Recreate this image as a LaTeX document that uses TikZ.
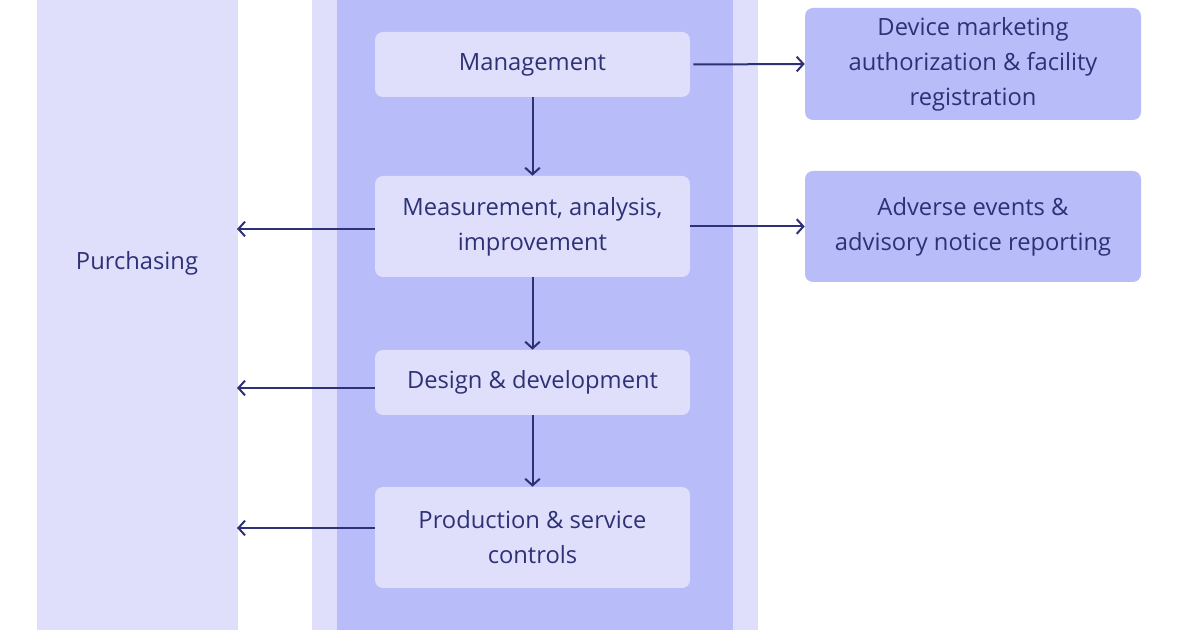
\documentclass[tikz,border=0pt]{standalone}
\usepackage{fontspec}
\setmainfont{Open Sans}
\usetikzlibrary{arrows.meta}
\definecolor{lightlav}{HTML}{DFDFFC}
\definecolor{midlav}{HTML}{B8BCF8}
\definecolor{navy}{HTML}{2E3176}
\tikzset{
  col/.style={fill=#1, draw=none, inner sep=0pt, anchor=north west},
  txt/.style={text=navy, font=\fontsize{17.8}{26.3}\selectfont},
  inbox/.style={txt, fill=lightlav, draw=none, rounded corners=6pt, minimum width=315*0.75pt, align=center, inner sep=0pt},
  outbox/.style={txt, fill=midlav, draw=none, rounded corners=6pt, minimum width=336*0.75pt, align=center, inner sep=0pt},
  conn/.style={draw=navy, line width=1.5pt, -{Straight Barb[length=5pt,width=11pt,line width=1.5pt]}},
}
\begin{document}
\begin{tikzpicture}[x=0.75pt,y=-0.75pt]
\useasboundingbox (0,0) rectangle (1200,630);
\node[col=lightlav, minimum width=201*0.75pt, minimum height=630*0.75pt] (purch) at (37,0) {};
\node[txt] (purchtext) at (137,263) {Purchasing};
\node[col=lightlav, minimum width=446*0.75pt, minimum height=630*0.75pt] (outer) at (312,0) {};
\node[col=midlav, minimum width=396*0.75pt, minimum height=630*0.75pt] (inner) at (337,0) {};

\node[inbox, minimum height=65*0.75pt] (mgmt) at (532.5,64.5) {Management};
\node[inbox, minimum height=101*0.75pt] (meas) at (532.5,226.5) {Measurement, analysis,\\improvement};
\node[inbox, minimum height=65*0.75pt] (design) at (532.5,382.5) {Design \& development};
\node[inbox, minimum height=101*0.75pt] (prod) at (532.5,537.5) {Production \& service\\controls};

\node[outbox, minimum height=112*0.75pt] (device) at (973,64) {Device marketing\\authorization \& facility\\registration};
\node[outbox, minimum height=111*0.75pt] (adverse) at (973,226.5) {Adverse events \&\\advisory notice reporting};

\coordinate (pl1) at (237,229);
\coordinate (pl2) at (237,388);
\coordinate (pl3) at (237,528);

\draw[conn] (mgmt.east) ++(3,0) -- (device.west);
\draw[conn] (meas.east) -- (adverse.west);
\draw[conn] (mgmt.south) -- (meas.north);
\draw[conn] (meas.south) -- (design.north);
\draw[conn] (design.south) -- (prod.north);
\draw[conn] (meas.west |- pl1) -- (pl1);
\draw[conn] (design.west |- pl2) -- (pl2);
\draw[conn] (prod.west |- pl3) -- (pl3);
\end{tikzpicture}
\end{document}
